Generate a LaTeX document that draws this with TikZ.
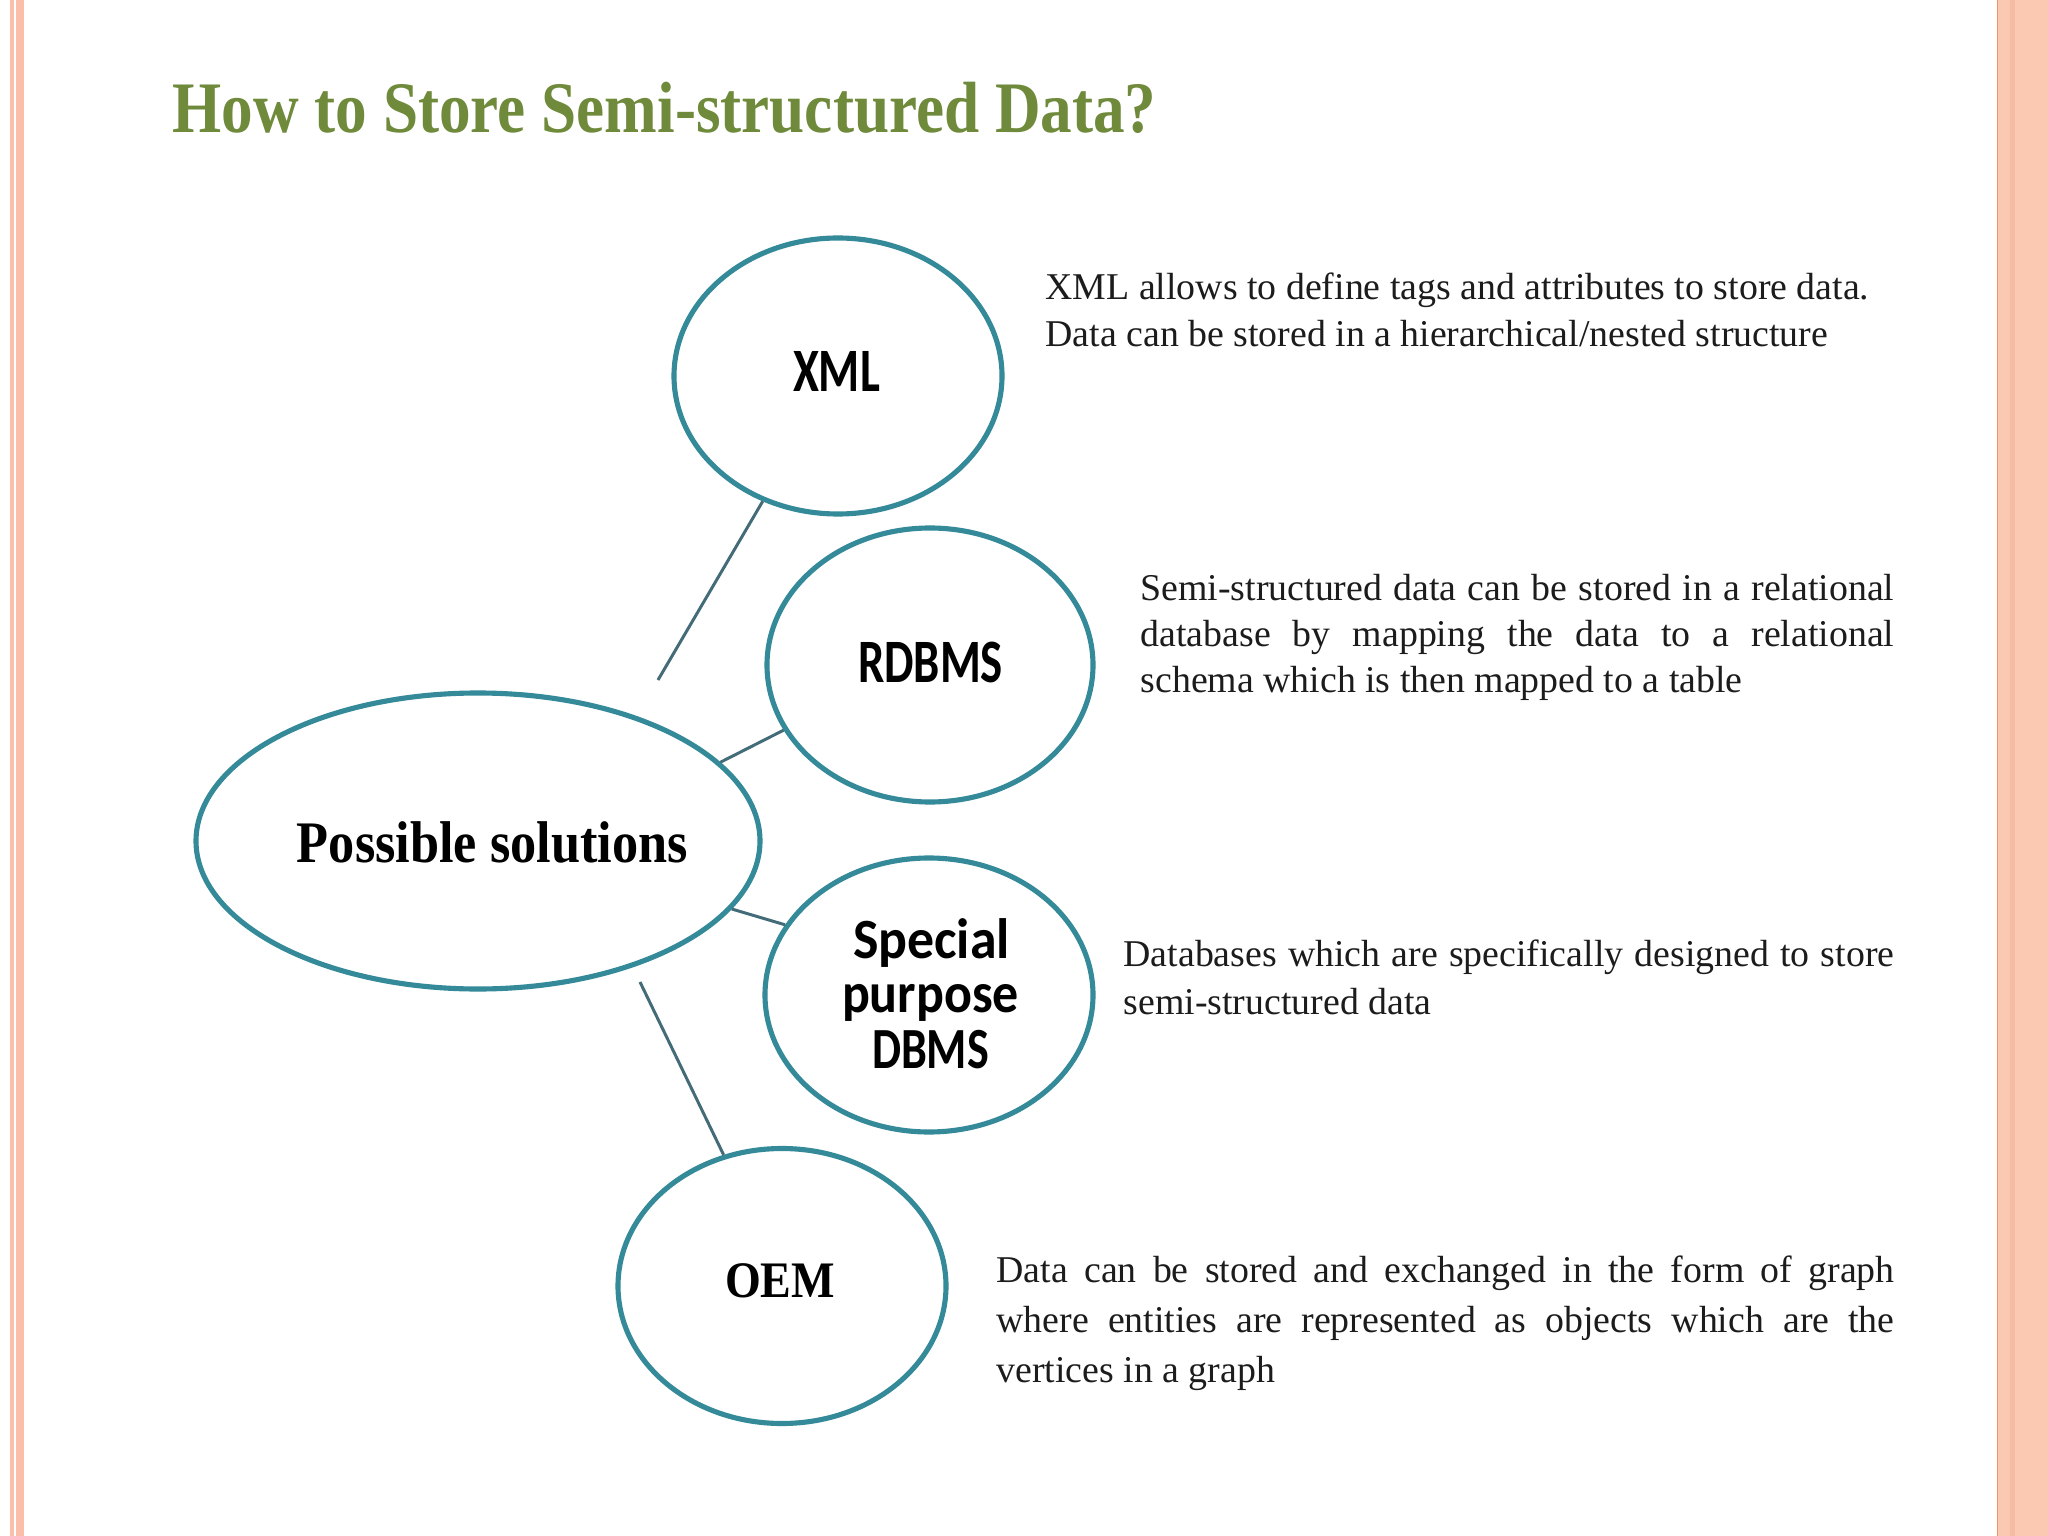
\documentclass[tikz,border=0pt]{standalone}
\usepackage{fontspec}
\setmainfont{Liberation Serif}
\newfontfamily\calib{Carlito}
\usepackage{graphicx}
\usetikzlibrary{shapes.geometric}
\newlength\pxu
\setlength\pxu{0.3515625pt}
\newcommand\fw[2]{\resizebox{#1\pxu}{\height}{#2}}
\definecolor{bubblecol}{RGB}{52,138,152}
\definecolor{conncol}{RGB}{68,108,120}
\definecolor{titlecol}{RGB}{110,138,58}
\definecolor{pinkl}{RGB}{250,190,170}
\definecolor{pinkr}{RGB}{251,200,178}
\definecolor{pinkedge}{RGB}{236,150,110}
\definecolor{pinkstripe}{RGB}{246,188,162}
\definecolor{txtcol}{RGB}{28,28,28}
\begin{document}
\begin{tikzpicture}[x=0.3515625pt,y=-0.3515625pt,
  bubble/.style={draw=bubblecol, line width=1.8pt, ellipse, inner sep=0pt, fill=white},
  conn/.style={draw=conncol, line width=1.05pt},
  lbl/.style={anchor=base, inner sep=0pt, text=black},
  desc/.style={anchor=base west, inner sep=0pt, text=txtcol}]
\fill[white] (0,0) rectangle (2048,1536);
\useasboundingbox (0,0) rectangle (2048,1536);
% borders
\fill[pinkl] (10,0) rectangle (14,1536);
\fill[pinkl] (16,0) rectangle (24,1536);
\fill[pinkr] (1997,0) rectangle (2048,1536);
\fill[pinkstripe] (2010,0) rectangle (2015,1536);
\draw[pinkedge, line width=0.4pt] (1997.5,0) -- (1997.5,1536);
% title
\node[anchor=base west, inner sep=0pt, text=titlecol] (title) at (172,133)
  {\fw{984}{\fontsize{25.5}{30}\selectfont\bfseries How to Store Semi-structured Data?}};
% bubbles
\node[bubble, minimum width=328\pxu, minimum height=276\pxu] (xml) at (838,376) {};
\node[bubble, minimum width=326\pxu, minimum height=274\pxu] (rdbms) at (930,665) {};
\node[bubble, minimum width=328\pxu, minimum height=274\pxu] (spdb) at (929,995) {};
\node[bubble, minimum width=328\pxu, minimum height=275\pxu] (oem) at (782,1286) {};
\node[bubble, minimum width=564\pxu, minimum height=296\pxu] (ps) at (478,841) {};
% connectors
\coordinate (xmlfree) at (658,680);
\coordinate (oemfree) at (640,982);
\draw[conn] (xml.239.9) -- (xmlfree);
\draw[conn] (ps.18.5) -- (rdbms.204.8);
\draw[conn] (ps.345.7) -- (spdb.154.7);
\draw[conn] (oemfree) -- (oem.114.5);
% bubble labels
\node[lbl] (xmlt) at (836.5,392) {\fw{87}{\calib\bfseries\fontsize{21.7}{26}\selectfont XML}};
\node[lbl] (rdbmst) at (930.5,682) {\fw{145}{\calib\bfseries\fontsize{21.7}{26}\selectfont RDBMS}};
\node[lbl] (spt1) at (931.5,958) {\fw{157}{\calib\bfseries\fontsize{20}{24}\selectfont Special}};
\node[lbl] (spt2) at (930.5,1012) {\fw{177}{\calib\bfseries\fontsize{20}{24}\selectfont purpose}};
\node[lbl] (spt3) at (930.5,1068) {\fw{117}{\calib\bfseries\fontsize{20.5}{24}\selectfont DBMS}};
\node[lbl] (pst) at (492.5,862) {\fw{391}{\bfseries\fontsize{20.7}{24}\selectfont Possible solutions}};
\node[lbl] (oemt) at (780,1297) {\fw{110}{\bfseries\fontsize{18}{22}\selectfont OEM}};
% descriptions
\node[desc] (d1) at (1045,300) {\fontsize{13.3}{16.5}\selectfont\parbox[t]{300pt}{\raggedright
  XML allows to define tags and attributes to store data.\\
  Data can be stored in a hierarchical/nested structure}};
\node[desc] (d2) at (1140,601) {\fontsize{13.3}{16}\selectfont\parbox[t]{265pt}{%
  \makebox[265pt][s]{Semi-structured data can be stored in a relational}\\
  \makebox[265pt][s]{database by mapping the data to a relational}\\
  schema which is then mapped to a table}};
\node[desc] (d3) at (1123,966) {\fontsize{13.3}{17.2}\selectfont\parbox[t]{271pt}{%
  \makebox[271pt][s]{Databases which are specifically designed to store}\\
  semi-structured data}};
\node[desc] (d4) at (996,1282) {\fontsize{13.3}{17.6}\selectfont\parbox[t]{315.7pt}{%
  \makebox[315.7pt][s]{Data can be stored and exchanged in the form of graph}\\
  \makebox[315.7pt][s]{where entities are represented as objects which are the}\\
  vertices in a graph}};
\end{tikzpicture}
\end{document}
